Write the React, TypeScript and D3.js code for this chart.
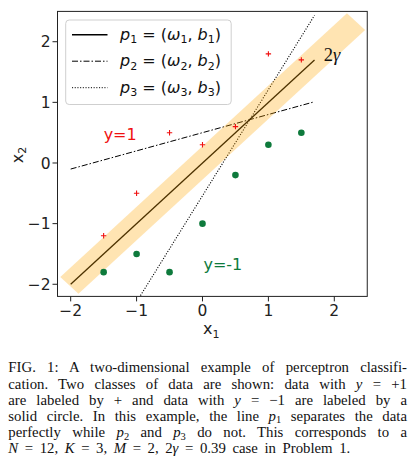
import { useEffect, useRef } from "react";
import * as d3 from "d3";

// values
const xTicks = [-2, -1, 0, 1, 2];
const yTicks = [-2, -1, 0, 1, 2];

const plusX = [-1.5, -1, -0.5, 0, 0.5, 1, 1.5];
const plusY = [-1.2, -0.5, 0.5, 0.3, 0.6, 1.8, 1.7];
const dotX = [-1.5, -1, -0.5, 0, 0.5, 1, 1.5];
const dotY = [-1.8, -1.5, -1.8, -1, -0.2, 0.3, 0.5];

const lineX = [-2, 1.7];
const p1Y = [-2, 1.7];
const p2Y = [-0.1, 1.01];
const p3Y = [-4.04, 2.435];

const bandT = [-2.02, 2.33];
const gamma = 0.195;

const legendIdx = ["1", "2", "3"];

type Seg = { t: string; i?: boolean; s?: boolean };
const caption: Seg[][] = [
  [{ t: "FIG. 1: A two-dimensional example of perceptron classifi-" }],
  [{ t: "cation. Two classes of data are shown: data with " }, { t: "y", i: true }, { t: " = +1" }],
  [{ t: "are labeled by + and data with " }, { t: "y", i: true }, { t: " = \u22121 are labeled by a" }],
  [{ t: "solid circle. In this example, the line " }, { t: "p", i: true }, { t: "1", s: true }, { t: " separates the data" }],
  [{ t: "perfectly while " }, { t: "p", i: true }, { t: "2", s: true }, { t: " and " }, { t: "p", i: true }, { t: "3", s: true }, { t: " do not. This corresponds to a" }],
  [{ t: "N", i: true }, { t: " = 12, " }, { t: "K", i: true }, { t: " = 3, " }, { t: "M", i: true }, { t: " = 2, 2" }, { t: "\u03b3", i: true }, { t: " = 0.39 case in Problem 1." }],
];

const W = 414;
const H = 465;
const x = d3.scaleLinear().domain([-2.2, 2.5]).range([57.5, 367.25]);
const y = d3.scaleLinear().domain([-2.2, 2.5]).range([296.4, 11.4]);

const sans = "DejaVu Sans";
const serif = "Liberation Serif";
const green = "#0e7a3c";

function segs(list: Seg[], subSize: number, shift: number) {
  let prev = false;
  return list.map((s, k) => {
    const dy = (s.s ? shift : 0) - (prev ? shift : 0);
    prev = !!s.s;
    return (
      <tspan key={k} dy={dy || undefined} fontStyle={s.i ? "italic" : undefined} fontSize={s.s ? subSize : undefined}>
        {s.t}
      </tspan>
    );
  });
}

export default function App() {
  const capRef = useRef<SVGGElement>(null);

  // justify caption lines by widening the spaces between words
  useEffect(() => {
    const g = capRef.current;
    if (!g) return;
    const texts = Array.from(g.querySelectorAll("text"));
    texts.forEach((el, i) => {
      const target = i === texts.length - 1 ? 342 : 398.7;
      el.setAttribute("word-spacing", "0");
      const natural = el.getComputedTextLength();
      const spaces = (el.textContent ?? "").split(" ").length - 1;
      if (spaces > 0) el.setAttribute("word-spacing", String((target - natural) / spaces));
    });
  }, []);

  const line = d3.line<number>().x((_, i) => x(lineX[i])).y((v) => y(v));
  const h = gamma / Math.SQRT2;
  const band: Array<[number, number]> = [
    [bandT[0] - h, bandT[0] + h],
    [bandT[1] - h, bandT[1] + h],
    [bandT[1] + h, bandT[1] - h],
    [bandT[0] + h, bandT[0] - h],
  ];
  const [x0, x1] = x.range();
  const [y0, y1] = y.range();

  return (
    <svg width={W} height={H} style={{ position: "absolute", left: 0, top: 0, background: "#fff" }} fontFamily={sans}>
      <defs>
        <clipPath id="plot">
          <rect x={x0} y={y1} width={x1 - x0} height={y0 - y1} />
        </clipPath>
      </defs>

      <g clipPath="url(#plot)">
        <path d={line(p1Y) ?? ""} fill="none" stroke="#000" strokeWidth={1.3} />
        <path d={line(p2Y) ?? ""} fill="none" stroke="#000" strokeWidth={1} strokeDasharray="6 2 1.5 2" />
        <path d={line(p3Y) ?? ""} fill="none" stroke="#000" strokeWidth={1.1} strokeDasharray="1.1 1.6" />
        <polygon points={band.map(([a, b]) => `${x(a)},${y(b)}`).join(" ")} fill="orange" fillOpacity={0.3} />
        {plusX.map((v, i) => (
          <path key={i} d={`M${x(v) - 2.7},${y(plusY[i])}h5.4M${x(v)},${y(plusY[i]) - 2.7}v5.4`} stroke="#f01010" strokeWidth={1.1} />
        ))}
        {dotX.map((v, i) => (
          <circle key={i} cx={x(v)} cy={y(dotY[i])} r={3.3} fill={green} />
        ))}
      </g>

      <text x={x(-1.5)} y={y(0.385)} fontSize={16} fill="#f01010">y=1</text>
      <text x={x(0.015)} y={y(-1.76)} fontSize={16} fill={green}>y=-1</text>
      <text x={x(1.84)} y={y(1.68)} fontFamily={serif} fontSize={18.5} fill="#111">
        2<tspan fontStyle="italic">{"\u03b3"}</tspan>
      </text>

      <rect x={x0} y={y1} width={x1 - x0} height={y0 - y1} fill="none" stroke="#222" strokeWidth={1} />

      {xTicks.map((t) => (
        <g key={t}>
          <line x1={x(t)} x2={x(t)} y1={y0} y2={y0 + 5} stroke="#222" strokeWidth={1} />
          <text x={x(t)} y={316} textAnchor="middle" fontSize={15.5} fill="#222">
            {t < 0 ? `\u2212${-t}` : t}
          </text>
        </g>
      ))}
      {yTicks.map((t) => (
        <g key={t}>
          <line x1={x0 - 5} x2={x0} y1={y(t)} y2={y(t)} stroke="#222" strokeWidth={1} />
          <text x={50.5} y={y(t) + 5.6} textAnchor="end" fontSize={15.5} fill="#222">
            {t < 0 ? `\u2212${-t}` : t}
          </text>
        </g>
      ))}

      <text x={203} y={334} fontSize={16} fill="#222">
        x<tspan fontSize={11} dy={3.5}>1</tspan>
      </text>
      <text transform="translate(22.5,155) rotate(-90)" textAnchor="middle" fontSize={16} fill="#222">
        x<tspan fontSize={11} dy={3.5}>2</tspan>
      </text>

      <g>
        <rect x={65.7} y={20} width={165.5} height={84.5} rx={3.5} fill="#fff" fillOpacity={0.85} stroke="#cfcfcf" strokeWidth={1} />
        {legendIdx.map((n, i) => {
          const cy = 34.7 + i * 26.5;
          return (
            <g key={n}>
              <line
                x1={72}
                x2={107.5}
                y1={cy}
                y2={cy}
                stroke="#000"
                strokeWidth={i === 0 ? 1.4 : 1}
                strokeDasharray={i === 1 ? "6 2 1.5 2" : i === 2 ? "1.1 1.6" : undefined}
              />
              <text x={120} y={cy + 5} fontSize={16} fill="#111">
                {segs(
                  [
                    { t: "p", i: true },
                    { t: n, s: true },
                    { t: " = (" },
                    { t: "\u03c9", i: true },
                    { t: n, s: true },
                    { t: ", " },
                    { t: "b", i: true },
                    { t: n, s: true },
                    { t: ")" },
                  ],
                  11,
                  3.5
                )}
              </text>
            </g>
          );
        })}
      </g>

      <g ref={capRef}>
        {caption.map((ln, i) => (
          <text key={i} x={8.3} y={372.3 + i * 16.2} fontFamily={serif} fontSize={14.8} fill="#111" style={{ whiteSpace: "pre" }}>
            {segs(ln, 10.5, 2.5)}
          </text>
        ))}
      </g>
    </svg>
  );
}
